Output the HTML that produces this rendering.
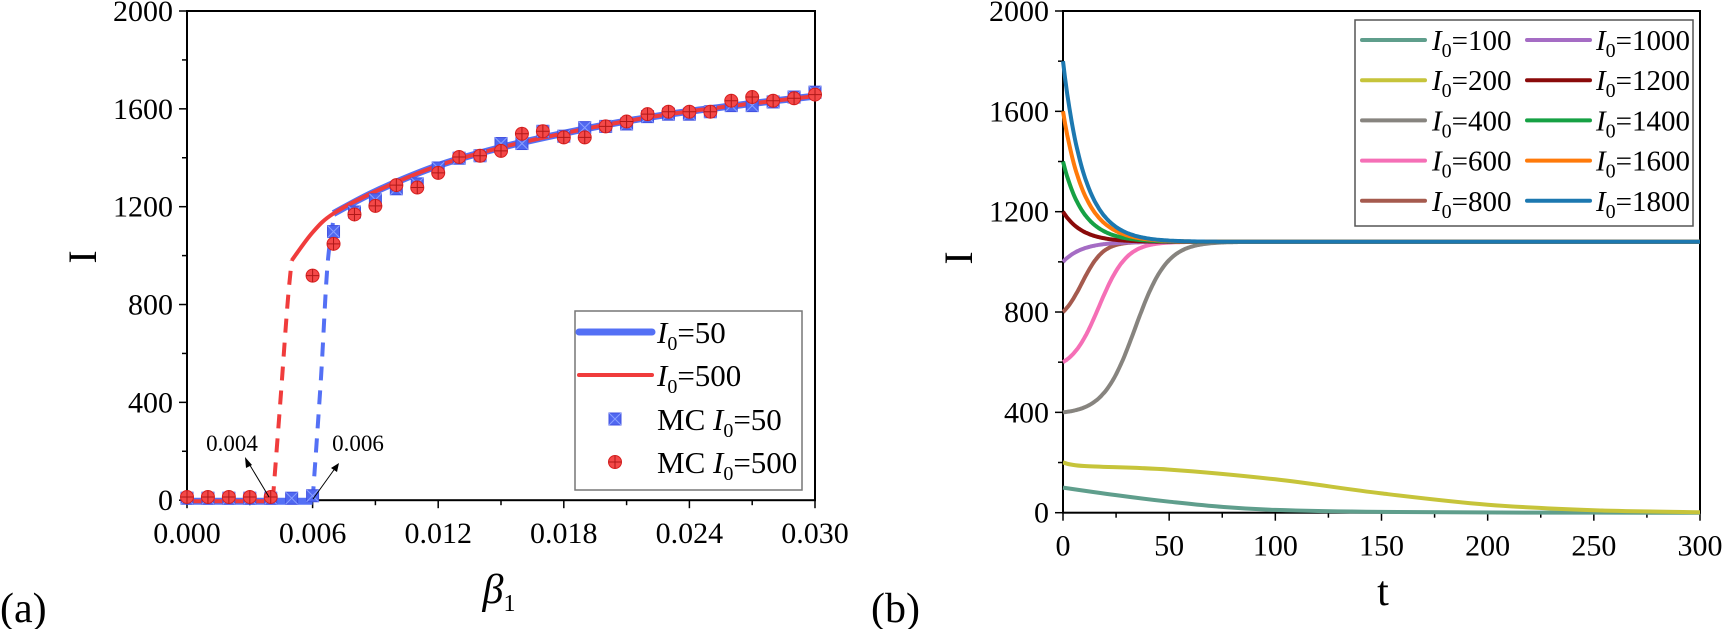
<!DOCTYPE html>
<html><head><meta charset="utf-8"><style>
body{margin:0;background:#fff;}
svg{display:block;}
text{font-family:"Liberation Serif","DejaVu Serif",serif;}
</style></head><body>
<svg id="s" width="1725" height="629" viewBox="0 0 1725 629" font-family="Liberation Serif, serif" xmlns="http://www.w3.org/2000/svg"></svg>
<script>
const S=document.getElementById('s');let h='';
function cr(pts){let d='M'+pts[0][0].toFixed(1)+','+pts[0][1].toFixed(1);
for(let i=0;i<pts.length-1;i++){const p0=pts[Math.max(0,i-1)],p1=pts[i],p2=pts[i+1],p3=pts[Math.min(pts.length-1,i+2)];
const c1=[p1[0]+(p2[0]-p0[0])/6,p1[1]+(p2[1]-p0[1])/6],c2=[p2[0]-(p3[0]-p1[0])/6,p2[1]-(p3[1]-p1[1])/6];
d+=' C'+c1.map(v=>v.toFixed(1))+' '+c2.map(v=>v.toFixed(1))+' '+p2[0].toFixed(1)+','+p2[1].toFixed(1);}return d;}
const aL=187,aR=815,aT=11,aB=500.2;
const ax=b=>aL+(b/0.03)*(aR-aL), ay=v=>aB-v*(aB-aT)/2000;
function axes(L,R,T,B,xt,xlab,xminor,yt,ylab){
 let s='';
 xt.forEach((x,i)=>{s+=`<line x1="${x}" y1="${B}" x2="${x}" y2="${B+8}" stroke="#000" stroke-width="1.5"/>`;
 s+=`<text x="${x}" y="${B+43}" font-size="30" text-anchor="middle">${xlab[i]}</text>`;});
 xminor.forEach(x=>{s+=`<line x1="${x}" y1="${B}" x2="${x}" y2="${B+5}" stroke="#000" stroke-width="1.5"/>`;});
 yt.forEach((y,i)=>{s+=`<line x1="${L-8}" y1="${y}" x2="${L}" y2="${y}" stroke="#000" stroke-width="1.5"/>`;
 s+=`<text x="${L-14}" y="${y+10}" font-size="30" text-anchor="end">${ylab[i]}</text>`;
 if(i<yt.length-1){const m=(y+yt[i+1])/2;s+=`<line x1="${L-5}" y1="${m}" x2="${L}" y2="${m}" stroke="#000" stroke-width="1.5"/>`;}});
 s+=`<rect x="${L}" y="${T}" width="${R-L}" height="${B-T}" fill="none" stroke="#000" stroke-width="2"/>`;
 return s;}
const yv=[0,400,800,1200,1600,2000],yl=yv.map(String);
{let xt=[],xl=[],xm=[];for(let i=0;i<=5;i++){xt.push(ax(i*0.006));xl.push((i*0.006).toFixed(3));xm.push(ax(i*0.006+0.003));}xm.pop();
h+=axes(aL,aR,aT,aB,xt,xl,xm,yv.map(ay),yl);}
const curve=[[0.005,980],[0.006,1095],[0.007,1172],[0.009,1262],[0.012,1368],[0.015,1442],[0.018,1500],[0.021,1550],[0.024,1590],[0.027,1622],[0.030,1652]];
const P=a=>a.map(p=>[ax(p[0]),ay(p[1])]);
h+=`<line x1="${ax(0)}" y1="${ay(0)+1}" x2="${ax(0.006)}" y2="${ay(0)+1}" stroke="#5470f5" stroke-width="7"/>`;
h+=`<path d="${cr(P([[0.006,0],[0.0064,500],[0.0067,950],[0.007,1150]]))}" fill="none" stroke="#5470f5" stroke-width="4" stroke-dasharray="14,10"/>`;
h+=`<path d="${cr(P(curve.slice(2)))}" fill="none" stroke="#5470f5" stroke-width="7"/>`;
h+=`<line x1="${ax(0)}" y1="${ay(0)+1}" x2="${ax(0.0041)}" y2="${ay(0)+1}" stroke="#f03c3c" stroke-width="4"/>`;
h+=`<path d="${cr(P([[0.0041,0],[0.0045,450],[0.0048,800],[0.005,980]]))}" fill="none" stroke="#f03c3c" stroke-width="4" stroke-dasharray="14,10"/>`;
h+=`<path d="${cr(P(curve))}" fill="none" stroke="#f03c3c" stroke-width="4"/>`;
function sq(x,y){return `<rect x="${x-6}" y="${y-6}" width="12" height="12" fill="#5068f0" stroke="#4050e0" stroke-width="1"/><path d="M${x-6},${y-6}L${x+6},${y+6}M${x+6},${y-6}L${x-6},${y+6}" stroke="#8aa0ff" stroke-width="1"/>`;}
function ci(x,y){return `<circle cx="${x}" cy="${y}" r="6.5" fill="#f44848" stroke="#d82020" stroke-width="1"/><path d="M${x-6.5},${y}H${x+6.5}M${x},${y-6.5}V${y+6.5}" stroke="#b01818" stroke-width="1"/>`;}
const bl=[0,0,0,0,0,0,10,1090,1170,1220,1265,1285,1350,1390,1400,1450,1450,1500,1480,1515,1520,1530,1560,1570,1570,1580,1605,1605,1620,1640,1660];
const rd=[5,5,5,5,5,null,910,1040,1160,1195,1280,1270,1330,1395,1400,1420,1490,1500,1475,1475,1520,1540,1570,1580,1580,1580,1625,1640,1625,1635,1650];
bl.forEach((v,i)=>{h+=sq(ax(i*0.001),ay(v)-2);});
rd.forEach((v,i)=>{if(v!==null)h+=ci(ax(i*0.001),ay(v)-2);});
h+=`<text x="232" y="451" font-size="23" text-anchor="middle">0.004</text><text x="358" y="451" font-size="23" text-anchor="middle">0.006</text>`;
h+=`<line x1="269" y1="497" x2="248" y2="462" stroke="#000" stroke-width="1"/><path d="M245,457 L246,468 L252,465Z" fill="#000"/>`;
h+=`<line x1="313" y1="499" x2="336" y2="467" stroke="#000" stroke-width="1"/><path d="M339,463 L331,468 L337,472Z" fill="#000"/>`;
h+=`<rect x="575" y="311" width="227" height="179" fill="#fff" stroke="#777" stroke-width="1.5"/>`;
h+=`<line x1="579" y1="332" x2="652" y2="332" stroke="#5470f5" stroke-width="7" stroke-linecap="round"/>`;
h+=`<line x1="579" y1="375" x2="652" y2="375" stroke="#f03c3c" stroke-width="4" stroke-linecap="round"/>`;
h+=sq(615,419)+ci(615,462);
const I0=`<tspan font-style="italic">I</tspan><tspan font-size="20" dy="7">0</tspan><tspan dy="-7">`;
h+=`<text x="657" y="343" font-size="31">${I0}=50</tspan></text>`;
h+=`<text x="657" y="386" font-size="31">${I0}=500</tspan></text>`;
h+=`<text x="657" y="430" font-size="31">MC ${I0}=50</tspan></text>`;
h+=`<text x="657" y="473" font-size="31">MC ${I0}=500</tspan></text>`;
h+=`<text x="0" y="622" font-size="42">(a)</text>`;
h+=`<text x="499" y="603" font-size="42" font-style="italic" text-anchor="middle">β<tspan font-size="24" font-style="normal" dy="8">1</tspan></text>`;
h+=`<text transform="translate(96,257) rotate(-90)" font-size="40" text-anchor="middle">I</text>`;
const bL=1063,bR=1700,bT=11,bB=512.7;
const bx=t=>bL+t/300*(bR-bL), by=v=>bB-v*(bB-bT)/2000;
{let xt=[],xl=[],xm=[];for(let i=0;i<=6;i++){xt.push(bx(i*50));xl.push(String(i*50));if(i<6)xm.push(bx(i*50+25));}
h+=axes(bL,bR,bT,bB,xt,xl,xm,yv.map(by),yl);}
const K=1080;
function pts(f){let a=[];for(let t=0;t<=300;t+=(t<100?1:5))a.push([bx(t),by(f(t))]);return a;}
function sig(I0,t0,w){const a=Math.tanh(-t0/w);return t=>I0+(K-I0)*(Math.tanh((t-t0)/w)-a)/(1-a);}
function ex(I0,tau){return t=>K+(I0-K)*Math.exp(-t/tau);}
const cp100=[[0,100],[25,70],[50,44],[75,23],[100,11],[150,3],[220,0.5],[300,0]];
const cp200=[[0,200],[10,186],[50,172],[100,133],[150,77],[200,32],[250,10],[300,2]];
const series=[
['#5f9e8c',null,cp100],
['#c6c43a',null,cp200],
['#87847f',sig(400,34,15)],
['#f56fb6',sig(600,17,13)],
['#a55a4e',sig(800,9,10)],
['#a56cc4',ex(1000,9)],
['#8a0a0a',ex(1200,9)],
['#16a144',ex(1400,9.5)],
['#ff7a0a',ex(1600,10)],
['#1c78b0',ex(1800,10)]];
series.forEach(s=>{const d=s[1]?cr(pts(s[1])):cr(s[2].map(p=>[bx(p[0]),by(p[1])]));h+=`<path d="${d}" fill="none" stroke="${s[0]}" stroke-width="4"/>`;});
h+=`<rect x="1355" y="20" width="338" height="206" fill="#fff" stroke="#555" stroke-width="1.5"/>`;
const labs=['100','200','400','600','800','1000','1200','1400','1600','1800'];
labs.forEach((l,i)=>{const c=i<5?0:1,r=i%5;const y=40+r*40.2;const lx=c?1525:1360,tx=c?1596:1432;
h+=`<line x1="${lx+2}" y1="${y}" x2="${lx+65}" y2="${y}" stroke="${series[i][0]}" stroke-width="4" stroke-linecap="round"/>`;
h+=`<text x="${tx}" y="${y+10}" font-size="29">${I0}=${l}</tspan></text>`;});
h+=`<text x="871" y="622" font-size="42">(b)</text>`;
h+=`<text x="1383" y="605" font-size="42" text-anchor="middle">t</text>`;
h+=`<text transform="translate(972,258) rotate(-90)" font-size="40" text-anchor="middle">I</text>`;
S.innerHTML=h;
</script>
</body></html>
